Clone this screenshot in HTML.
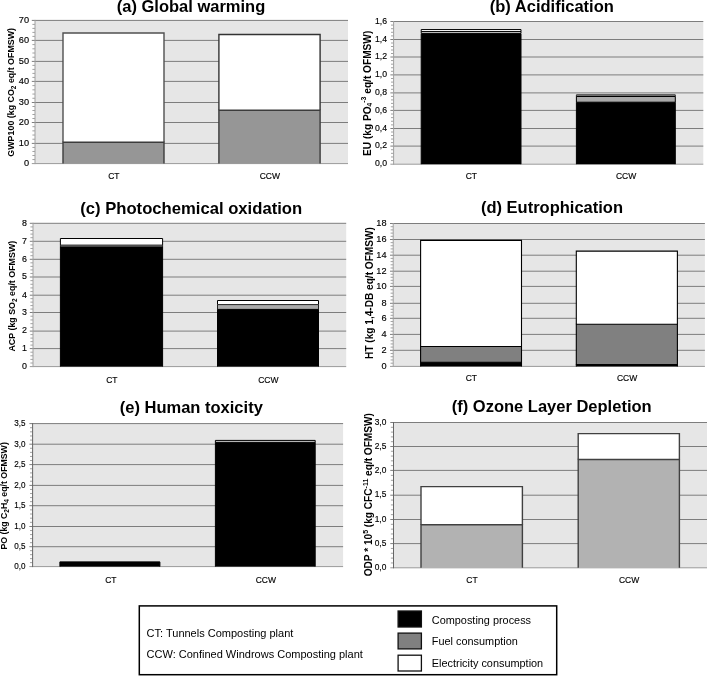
<!DOCTYPE html>
<html><head><meta charset="utf-8"><title>LCA impact categories</title>
<style>
html,body{margin:0;padding:0;background:#fff;}
body{width:707px;height:676px;overflow:hidden;}
svg{display:block;font-family:"Liberation Sans", Arial, sans-serif;}
</style></head><body>
<svg width="707" height="676" viewBox="0 0 707 676">
<rect width="707" height="676" fill="#fff"/>
<rect x="35.0" y="20.4" width="313.0" height="143.20" fill="#e6e6e6"/>
<line x1="32.4" y1="24.40" x2="35.0" y2="24.40" stroke="#8a8a8a" stroke-width="0.8"/>
<line x1="32.4" y1="28.40" x2="35.0" y2="28.40" stroke="#8a8a8a" stroke-width="0.8"/>
<line x1="32.4" y1="32.40" x2="35.0" y2="32.40" stroke="#8a8a8a" stroke-width="0.8"/>
<line x1="32.4" y1="36.40" x2="35.0" y2="36.40" stroke="#8a8a8a" stroke-width="0.8"/>
<line x1="32.4" y1="44.60" x2="35.0" y2="44.60" stroke="#8a8a8a" stroke-width="0.8"/>
<line x1="32.4" y1="48.80" x2="35.0" y2="48.80" stroke="#8a8a8a" stroke-width="0.8"/>
<line x1="32.4" y1="53.00" x2="35.0" y2="53.00" stroke="#8a8a8a" stroke-width="0.8"/>
<line x1="32.4" y1="57.20" x2="35.0" y2="57.20" stroke="#8a8a8a" stroke-width="0.8"/>
<line x1="32.4" y1="65.40" x2="35.0" y2="65.40" stroke="#8a8a8a" stroke-width="0.8"/>
<line x1="32.4" y1="69.40" x2="35.0" y2="69.40" stroke="#8a8a8a" stroke-width="0.8"/>
<line x1="32.4" y1="73.40" x2="35.0" y2="73.40" stroke="#8a8a8a" stroke-width="0.8"/>
<line x1="32.4" y1="77.40" x2="35.0" y2="77.40" stroke="#8a8a8a" stroke-width="0.8"/>
<line x1="32.4" y1="85.62" x2="35.0" y2="85.62" stroke="#8a8a8a" stroke-width="0.8"/>
<line x1="32.4" y1="89.84" x2="35.0" y2="89.84" stroke="#8a8a8a" stroke-width="0.8"/>
<line x1="32.4" y1="94.06" x2="35.0" y2="94.06" stroke="#8a8a8a" stroke-width="0.8"/>
<line x1="32.4" y1="98.28" x2="35.0" y2="98.28" stroke="#8a8a8a" stroke-width="0.8"/>
<line x1="32.4" y1="106.50" x2="35.0" y2="106.50" stroke="#8a8a8a" stroke-width="0.8"/>
<line x1="32.4" y1="110.50" x2="35.0" y2="110.50" stroke="#8a8a8a" stroke-width="0.8"/>
<line x1="32.4" y1="114.50" x2="35.0" y2="114.50" stroke="#8a8a8a" stroke-width="0.8"/>
<line x1="32.4" y1="118.50" x2="35.0" y2="118.50" stroke="#8a8a8a" stroke-width="0.8"/>
<line x1="32.4" y1="126.68" x2="35.0" y2="126.68" stroke="#8a8a8a" stroke-width="0.8"/>
<line x1="32.4" y1="130.86" x2="35.0" y2="130.86" stroke="#8a8a8a" stroke-width="0.8"/>
<line x1="32.4" y1="135.04" x2="35.0" y2="135.04" stroke="#8a8a8a" stroke-width="0.8"/>
<line x1="32.4" y1="139.22" x2="35.0" y2="139.22" stroke="#8a8a8a" stroke-width="0.8"/>
<line x1="32.4" y1="147.44" x2="35.0" y2="147.44" stroke="#8a8a8a" stroke-width="0.8"/>
<line x1="32.4" y1="151.48" x2="35.0" y2="151.48" stroke="#8a8a8a" stroke-width="0.8"/>
<line x1="32.4" y1="155.52" x2="35.0" y2="155.52" stroke="#8a8a8a" stroke-width="0.8"/>
<line x1="32.4" y1="159.56" x2="35.0" y2="159.56" stroke="#8a8a8a" stroke-width="0.8"/>
<line x1="31.8" y1="20.40" x2="348" y2="20.40" stroke="#7d7d7d" stroke-width="1"/>
<line x1="31.8" y1="40.40" x2="348" y2="40.40" stroke="#7d7d7d" stroke-width="1"/>
<line x1="31.8" y1="61.40" x2="348" y2="61.40" stroke="#7d7d7d" stroke-width="1"/>
<line x1="31.8" y1="81.40" x2="348" y2="81.40" stroke="#7d7d7d" stroke-width="1"/>
<line x1="31.8" y1="102.50" x2="348" y2="102.50" stroke="#7d7d7d" stroke-width="1"/>
<line x1="31.8" y1="122.50" x2="348" y2="122.50" stroke="#7d7d7d" stroke-width="1"/>
<line x1="31.8" y1="143.40" x2="348" y2="143.40" stroke="#7d7d7d" stroke-width="1"/>
<line x1="31.8" y1="163.60" x2="348" y2="163.60" stroke="#9a9a9a" stroke-width="1"/>
<line x1="35.0" y1="19.9" x2="35.0" y2="164.1" stroke="#a0a0a0" stroke-width="1"/>
<text transform="translate(29.0,166.01) scale(1,1)" font-size="9.2" text-anchor="end" fill="#000" stroke="#000" stroke-width="0.15">0</text>
<text transform="translate(29.0,145.81) scale(1,1)" font-size="9.2" text-anchor="end" fill="#000" stroke="#000" stroke-width="0.15">10</text>
<text transform="translate(29.0,124.91) scale(1,1)" font-size="9.2" text-anchor="end" fill="#000" stroke="#000" stroke-width="0.15">20</text>
<text transform="translate(29.0,104.91) scale(1,1)" font-size="9.2" text-anchor="end" fill="#000" stroke="#000" stroke-width="0.15">30</text>
<text transform="translate(29.0,83.81) scale(1,1)" font-size="9.2" text-anchor="end" fill="#000" stroke="#000" stroke-width="0.15">40</text>
<text transform="translate(29.0,63.81) scale(1,1)" font-size="9.2" text-anchor="end" fill="#000" stroke="#000" stroke-width="0.15">50</text>
<text transform="translate(29.0,42.81) scale(1,1)" font-size="9.2" text-anchor="end" fill="#000" stroke="#000" stroke-width="0.15">60</text>
<text transform="translate(29.0,22.81) scale(1,1)" font-size="9.2" text-anchor="end" fill="#000" stroke="#000" stroke-width="0.15">70</text>
<rect x="63.00" y="33.00" width="101.00" height="109.30" fill="#fff"/>
<rect x="63.00" y="142.30" width="101.00" height="21.30" fill="#969696"/>
<path d="M63.00,142.30V33.00H164.00V142.30" fill="none" stroke="#505050" stroke-width="1.4"/>
<path d="M63.00,163.60V142.30H164.00V163.60" fill="none" stroke="#3c3c3c" stroke-width="1.4"/>
<text x="113.80" y="178.5" font-size="8.5" text-anchor="middle" fill="#000" stroke="#000" stroke-width="0.15">CT</text>
<rect x="218.90" y="34.50" width="101.20" height="75.80" fill="#fff"/>
<rect x="218.90" y="110.30" width="101.20" height="53.30" fill="#969696"/>
<path d="M218.90,110.30V34.50H320.10V110.30" fill="none" stroke="#333" stroke-width="1.4"/>
<path d="M218.90,163.60V110.30H320.10V163.60" fill="none" stroke="#3c3c3c" stroke-width="1.4"/>
<text x="269.80" y="178.5" font-size="8.5" text-anchor="middle" fill="#000" stroke="#000" stroke-width="0.15">CCW</text>
<text x="191" y="11.7" font-size="16.5" font-weight="bold" text-anchor="middle" fill="#000">(a) Global warming</text>
<text transform="translate(14.1,92.3) rotate(-90) scale(1,1)" font-size="8.87" font-weight="bold" text-anchor="middle" fill="#000"><tspan>GWP100 (kg CO</tspan><tspan dy="1.8" font-size="6.5">2</tspan><tspan dy="-1.8"> eq/t OFMSW)</tspan></text>
<rect x="393.6" y="21.5" width="309.69999999999993" height="142.70" fill="#e6e6e6"/>
<line x1="391.0" y1="25.10" x2="393.6" y2="25.10" stroke="#8a8a8a" stroke-width="0.8"/>
<line x1="391.0" y1="28.70" x2="393.6" y2="28.70" stroke="#8a8a8a" stroke-width="0.8"/>
<line x1="391.0" y1="32.30" x2="393.6" y2="32.30" stroke="#8a8a8a" stroke-width="0.8"/>
<line x1="391.0" y1="35.90" x2="393.6" y2="35.90" stroke="#8a8a8a" stroke-width="0.8"/>
<line x1="391.0" y1="43.00" x2="393.6" y2="43.00" stroke="#8a8a8a" stroke-width="0.8"/>
<line x1="391.0" y1="46.50" x2="393.6" y2="46.50" stroke="#8a8a8a" stroke-width="0.8"/>
<line x1="391.0" y1="50.00" x2="393.6" y2="50.00" stroke="#8a8a8a" stroke-width="0.8"/>
<line x1="391.0" y1="53.50" x2="393.6" y2="53.50" stroke="#8a8a8a" stroke-width="0.8"/>
<line x1="391.0" y1="60.58" x2="393.6" y2="60.58" stroke="#8a8a8a" stroke-width="0.8"/>
<line x1="391.0" y1="64.16" x2="393.6" y2="64.16" stroke="#8a8a8a" stroke-width="0.8"/>
<line x1="391.0" y1="67.74" x2="393.6" y2="67.74" stroke="#8a8a8a" stroke-width="0.8"/>
<line x1="391.0" y1="71.32" x2="393.6" y2="71.32" stroke="#8a8a8a" stroke-width="0.8"/>
<line x1="391.0" y1="78.50" x2="393.6" y2="78.50" stroke="#8a8a8a" stroke-width="0.8"/>
<line x1="391.0" y1="82.10" x2="393.6" y2="82.10" stroke="#8a8a8a" stroke-width="0.8"/>
<line x1="391.0" y1="85.70" x2="393.6" y2="85.70" stroke="#8a8a8a" stroke-width="0.8"/>
<line x1="391.0" y1="89.30" x2="393.6" y2="89.30" stroke="#8a8a8a" stroke-width="0.8"/>
<line x1="391.0" y1="96.40" x2="393.6" y2="96.40" stroke="#8a8a8a" stroke-width="0.8"/>
<line x1="391.0" y1="99.90" x2="393.6" y2="99.90" stroke="#8a8a8a" stroke-width="0.8"/>
<line x1="391.0" y1="103.40" x2="393.6" y2="103.40" stroke="#8a8a8a" stroke-width="0.8"/>
<line x1="391.0" y1="106.90" x2="393.6" y2="106.90" stroke="#8a8a8a" stroke-width="0.8"/>
<line x1="391.0" y1="114.02" x2="393.6" y2="114.02" stroke="#8a8a8a" stroke-width="0.8"/>
<line x1="391.0" y1="117.64" x2="393.6" y2="117.64" stroke="#8a8a8a" stroke-width="0.8"/>
<line x1="391.0" y1="121.26" x2="393.6" y2="121.26" stroke="#8a8a8a" stroke-width="0.8"/>
<line x1="391.0" y1="124.88" x2="393.6" y2="124.88" stroke="#8a8a8a" stroke-width="0.8"/>
<line x1="391.0" y1="132.02" x2="393.6" y2="132.02" stroke="#8a8a8a" stroke-width="0.8"/>
<line x1="391.0" y1="135.54" x2="393.6" y2="135.54" stroke="#8a8a8a" stroke-width="0.8"/>
<line x1="391.0" y1="139.06" x2="393.6" y2="139.06" stroke="#8a8a8a" stroke-width="0.8"/>
<line x1="391.0" y1="142.58" x2="393.6" y2="142.58" stroke="#8a8a8a" stroke-width="0.8"/>
<line x1="391.0" y1="149.72" x2="393.6" y2="149.72" stroke="#8a8a8a" stroke-width="0.8"/>
<line x1="391.0" y1="153.34" x2="393.6" y2="153.34" stroke="#8a8a8a" stroke-width="0.8"/>
<line x1="391.0" y1="156.96" x2="393.6" y2="156.96" stroke="#8a8a8a" stroke-width="0.8"/>
<line x1="391.0" y1="160.58" x2="393.6" y2="160.58" stroke="#8a8a8a" stroke-width="0.8"/>
<line x1="390.40000000000003" y1="21.50" x2="703.3" y2="21.50" stroke="#7d7d7d" stroke-width="1"/>
<line x1="390.40000000000003" y1="39.50" x2="703.3" y2="39.50" stroke="#7d7d7d" stroke-width="1"/>
<line x1="390.40000000000003" y1="57.00" x2="703.3" y2="57.00" stroke="#7d7d7d" stroke-width="1"/>
<line x1="390.40000000000003" y1="74.90" x2="703.3" y2="74.90" stroke="#7d7d7d" stroke-width="1"/>
<line x1="390.40000000000003" y1="92.90" x2="703.3" y2="92.90" stroke="#7d7d7d" stroke-width="1"/>
<line x1="390.40000000000003" y1="110.40" x2="703.3" y2="110.40" stroke="#7d7d7d" stroke-width="1"/>
<line x1="390.40000000000003" y1="128.50" x2="703.3" y2="128.50" stroke="#7d7d7d" stroke-width="1"/>
<line x1="390.40000000000003" y1="146.10" x2="703.3" y2="146.10" stroke="#7d7d7d" stroke-width="1"/>
<line x1="390.40000000000003" y1="164.20" x2="703.3" y2="164.20" stroke="#9a9a9a" stroke-width="1"/>
<line x1="393.6" y1="21.0" x2="393.6" y2="164.7" stroke="#a0a0a0" stroke-width="1"/>
<text transform="translate(387.0,166.43) scale(1,1)" font-size="8.7" text-anchor="end" fill="#000" stroke="#000" stroke-width="0.15">0,0</text>
<text transform="translate(387.0,148.33) scale(1,1)" font-size="8.7" text-anchor="end" fill="#000" stroke="#000" stroke-width="0.15">0,2</text>
<text transform="translate(387.0,130.73) scale(1,1)" font-size="8.7" text-anchor="end" fill="#000" stroke="#000" stroke-width="0.15">0,4</text>
<text transform="translate(387.0,112.63) scale(1,1)" font-size="8.7" text-anchor="end" fill="#000" stroke="#000" stroke-width="0.15">0,6</text>
<text transform="translate(387.0,95.13) scale(1,1)" font-size="8.7" text-anchor="end" fill="#000" stroke="#000" stroke-width="0.15">0,8</text>
<text transform="translate(387.0,77.13) scale(1,1)" font-size="8.7" text-anchor="end" fill="#000" stroke="#000" stroke-width="0.15">1,0</text>
<text transform="translate(387.0,59.23) scale(1,1)" font-size="8.7" text-anchor="end" fill="#000" stroke="#000" stroke-width="0.15">1,2</text>
<text transform="translate(387.0,41.73) scale(1,1)" font-size="8.7" text-anchor="end" fill="#000" stroke="#000" stroke-width="0.15">1,4</text>
<text transform="translate(387.0,23.73) scale(1,1)" font-size="8.7" text-anchor="end" fill="#000" stroke="#000" stroke-width="0.15">1,6</text>
<rect x="421.20" y="33.60" width="99.80" height="130.60" fill="#000"/>
<rect x="421.20" y="31.55" width="99.80" height="1.55" fill="#c4c4c4"/>
<rect x="421.20" y="29.55" width="99.80" height="2.00" fill="#fff"/>
<path d="M421.20,164.20V33.60H521.00V164.20" fill="none" stroke="#000" stroke-width="1"/>
<path d="M421.20,33.10V31.55H521.00V33.10" fill="none" stroke="#000" stroke-width="1"/>
<path d="M421.20,31.55V29.55H521.00V31.55" fill="none" stroke="#000" stroke-width="1"/>
<text x="471.40" y="179.1" font-size="8.5" text-anchor="middle" fill="#000" stroke="#000" stroke-width="0.15">CT</text>
<rect x="576.40" y="94.80" width="98.90" height="1.70" fill="#888"/>
<rect x="576.40" y="96.50" width="98.90" height="5.50" fill="#aaa"/>
<rect x="576.40" y="102.20" width="98.90" height="62.00" fill="#000"/>
<path d="M576.40,96.50V94.80H675.30V96.50" fill="none" stroke="#333" stroke-width="1"/>
<path d="M576.40,102.00V96.50H675.30V102.00" fill="none" stroke="#000" stroke-width="1"/>
<path d="M576.40,164.20V102.20H675.30V164.20" fill="none" stroke="#000" stroke-width="1"/>
<text x="626.15" y="179.1" font-size="8.5" text-anchor="middle" fill="#000" stroke="#000" stroke-width="0.15">CCW</text>
<text x="551.8" y="11.6" font-size="16.5" font-weight="bold" text-anchor="middle" fill="#000">(b) Acidification</text>
<text transform="translate(370.6,93.3) rotate(-90) scale(1,1)" font-size="10.15" font-weight="bold" text-anchor="middle" fill="#000"><tspan>EU (kg PO</tspan><tspan dy="1.8" font-size="6.5">4</tspan><tspan dy="-6.0" font-size="7">-3</tspan><tspan dy="4.2"> eq/t OFMSW)</tspan></text>
<rect x="33.0" y="223.3" width="313.2" height="143.30" fill="#e6e6e6"/>
<line x1="30.4" y1="226.90" x2="33.0" y2="226.90" stroke="#8a8a8a" stroke-width="0.8"/>
<line x1="30.4" y1="230.50" x2="33.0" y2="230.50" stroke="#8a8a8a" stroke-width="0.8"/>
<line x1="30.4" y1="234.10" x2="33.0" y2="234.10" stroke="#8a8a8a" stroke-width="0.8"/>
<line x1="30.4" y1="237.70" x2="33.0" y2="237.70" stroke="#8a8a8a" stroke-width="0.8"/>
<line x1="30.4" y1="244.90" x2="33.0" y2="244.90" stroke="#8a8a8a" stroke-width="0.8"/>
<line x1="30.4" y1="248.50" x2="33.0" y2="248.50" stroke="#8a8a8a" stroke-width="0.8"/>
<line x1="30.4" y1="252.10" x2="33.0" y2="252.10" stroke="#8a8a8a" stroke-width="0.8"/>
<line x1="30.4" y1="255.70" x2="33.0" y2="255.70" stroke="#8a8a8a" stroke-width="0.8"/>
<line x1="30.4" y1="262.84" x2="33.0" y2="262.84" stroke="#8a8a8a" stroke-width="0.8"/>
<line x1="30.4" y1="266.38" x2="33.0" y2="266.38" stroke="#8a8a8a" stroke-width="0.8"/>
<line x1="30.4" y1="269.92" x2="33.0" y2="269.92" stroke="#8a8a8a" stroke-width="0.8"/>
<line x1="30.4" y1="273.46" x2="33.0" y2="273.46" stroke="#8a8a8a" stroke-width="0.8"/>
<line x1="30.4" y1="280.64" x2="33.0" y2="280.64" stroke="#8a8a8a" stroke-width="0.8"/>
<line x1="30.4" y1="284.28" x2="33.0" y2="284.28" stroke="#8a8a8a" stroke-width="0.8"/>
<line x1="30.4" y1="287.92" x2="33.0" y2="287.92" stroke="#8a8a8a" stroke-width="0.8"/>
<line x1="30.4" y1="291.56" x2="33.0" y2="291.56" stroke="#8a8a8a" stroke-width="0.8"/>
<line x1="30.4" y1="298.66" x2="33.0" y2="298.66" stroke="#8a8a8a" stroke-width="0.8"/>
<line x1="30.4" y1="302.12" x2="33.0" y2="302.12" stroke="#8a8a8a" stroke-width="0.8"/>
<line x1="30.4" y1="305.58" x2="33.0" y2="305.58" stroke="#8a8a8a" stroke-width="0.8"/>
<line x1="30.4" y1="309.04" x2="33.0" y2="309.04" stroke="#8a8a8a" stroke-width="0.8"/>
<line x1="30.4" y1="316.22" x2="33.0" y2="316.22" stroke="#8a8a8a" stroke-width="0.8"/>
<line x1="30.4" y1="319.94" x2="33.0" y2="319.94" stroke="#8a8a8a" stroke-width="0.8"/>
<line x1="30.4" y1="323.66" x2="33.0" y2="323.66" stroke="#8a8a8a" stroke-width="0.8"/>
<line x1="30.4" y1="327.38" x2="33.0" y2="327.38" stroke="#8a8a8a" stroke-width="0.8"/>
<line x1="30.4" y1="334.60" x2="33.0" y2="334.60" stroke="#8a8a8a" stroke-width="0.8"/>
<line x1="30.4" y1="338.10" x2="33.0" y2="338.10" stroke="#8a8a8a" stroke-width="0.8"/>
<line x1="30.4" y1="341.60" x2="33.0" y2="341.60" stroke="#8a8a8a" stroke-width="0.8"/>
<line x1="30.4" y1="345.10" x2="33.0" y2="345.10" stroke="#8a8a8a" stroke-width="0.8"/>
<line x1="30.4" y1="352.20" x2="33.0" y2="352.20" stroke="#8a8a8a" stroke-width="0.8"/>
<line x1="30.4" y1="355.80" x2="33.0" y2="355.80" stroke="#8a8a8a" stroke-width="0.8"/>
<line x1="30.4" y1="359.40" x2="33.0" y2="359.40" stroke="#8a8a8a" stroke-width="0.8"/>
<line x1="30.4" y1="363.00" x2="33.0" y2="363.00" stroke="#8a8a8a" stroke-width="0.8"/>
<line x1="29.8" y1="223.30" x2="346.2" y2="223.30" stroke="#7d7d7d" stroke-width="1"/>
<line x1="29.8" y1="241.30" x2="346.2" y2="241.30" stroke="#7d7d7d" stroke-width="1"/>
<line x1="29.8" y1="259.30" x2="346.2" y2="259.30" stroke="#7d7d7d" stroke-width="1"/>
<line x1="29.8" y1="277.00" x2="346.2" y2="277.00" stroke="#7d7d7d" stroke-width="1"/>
<line x1="29.8" y1="295.20" x2="346.2" y2="295.20" stroke="#7d7d7d" stroke-width="1"/>
<line x1="29.8" y1="312.50" x2="346.2" y2="312.50" stroke="#7d7d7d" stroke-width="1"/>
<line x1="29.8" y1="331.10" x2="346.2" y2="331.10" stroke="#7d7d7d" stroke-width="1"/>
<line x1="29.8" y1="348.60" x2="346.2" y2="348.60" stroke="#7d7d7d" stroke-width="1"/>
<line x1="29.8" y1="366.60" x2="346.2" y2="366.60" stroke="#9a9a9a" stroke-width="1"/>
<line x1="33.0" y1="222.8" x2="33.0" y2="367.1" stroke="#a0a0a0" stroke-width="1"/>
<text transform="translate(27.0,368.90) scale(1,1)" font-size="8.9" text-anchor="end" fill="#000" stroke="#000" stroke-width="0.15">0</text>
<text transform="translate(27.0,350.90) scale(1,1)" font-size="8.9" text-anchor="end" fill="#000" stroke="#000" stroke-width="0.15">1</text>
<text transform="translate(27.0,333.40) scale(1,1)" font-size="8.9" text-anchor="end" fill="#000" stroke="#000" stroke-width="0.15">2</text>
<text transform="translate(27.0,314.80) scale(1,1)" font-size="8.9" text-anchor="end" fill="#000" stroke="#000" stroke-width="0.15">3</text>
<text transform="translate(27.0,297.50) scale(1,1)" font-size="8.9" text-anchor="end" fill="#000" stroke="#000" stroke-width="0.15">4</text>
<text transform="translate(27.0,279.30) scale(1,1)" font-size="8.9" text-anchor="end" fill="#000" stroke="#000" stroke-width="0.15">5</text>
<text transform="translate(27.0,261.60) scale(1,1)" font-size="8.9" text-anchor="end" fill="#000" stroke="#000" stroke-width="0.15">6</text>
<text transform="translate(27.0,243.60) scale(1,1)" font-size="8.9" text-anchor="end" fill="#000" stroke="#000" stroke-width="0.15">7</text>
<text transform="translate(27.0,225.60) scale(1,1)" font-size="8.9" text-anchor="end" fill="#000" stroke="#000" stroke-width="0.15">8</text>
<rect x="60.40" y="238.50" width="102.20" height="6.60" fill="#fff"/>
<rect x="60.40" y="245.10" width="102.20" height="1.90" fill="#8c8c8c"/>
<rect x="60.40" y="247.00" width="102.20" height="119.60" fill="#000"/>
<path d="M60.40,245.10V238.50H162.60V245.10" fill="none" stroke="#000" stroke-width="1"/>
<path d="M60.40,247.00V245.10H162.60V247.00" fill="none" stroke="#222" stroke-width="1"/>
<path d="M60.40,366.60V247.00H162.60V366.60" fill="none" stroke="#000" stroke-width="1"/>
<text x="111.80" y="382.5" font-size="8.5" text-anchor="middle" fill="#000" stroke="#000" stroke-width="0.15">CT</text>
<rect x="217.50" y="300.50" width="101.00" height="4.10" fill="#fff"/>
<rect x="217.50" y="304.60" width="101.00" height="4.80" fill="#aaa"/>
<rect x="217.50" y="309.40" width="101.00" height="57.20" fill="#000"/>
<path d="M217.50,304.60V300.50H318.50V304.60" fill="none" stroke="#000" stroke-width="1"/>
<path d="M217.50,309.40V304.60H318.50V309.40" fill="none" stroke="#222" stroke-width="1"/>
<path d="M217.50,366.60V309.40H318.50V366.60" fill="none" stroke="#000" stroke-width="1"/>
<text x="268.30" y="382.5" font-size="8.5" text-anchor="middle" fill="#000" stroke="#000" stroke-width="0.15">CCW</text>
<text x="191.2" y="213.5" font-size="16.65" font-weight="bold" text-anchor="middle" fill="#000">(c) Photochemical oxidation</text>
<text transform="translate(14.8,296.2) rotate(-90) scale(1,1)" font-size="8.87" font-weight="bold" text-anchor="middle" fill="#000"><tspan>ACP (kg SO</tspan><tspan dy="1.8" font-size="6.5">2</tspan><tspan dy="-1.8"> eq/t OFMSW)</tspan></text>
<rect x="393.2" y="223.5" width="311.7" height="142.90" fill="#e6e6e6"/>
<line x1="390.59999999999997" y1="226.70" x2="393.2" y2="226.70" stroke="#8a8a8a" stroke-width="0.8"/>
<line x1="390.59999999999997" y1="229.90" x2="393.2" y2="229.90" stroke="#8a8a8a" stroke-width="0.8"/>
<line x1="390.59999999999997" y1="233.10" x2="393.2" y2="233.10" stroke="#8a8a8a" stroke-width="0.8"/>
<line x1="390.59999999999997" y1="236.30" x2="393.2" y2="236.30" stroke="#8a8a8a" stroke-width="0.8"/>
<line x1="390.59999999999997" y1="242.64" x2="393.2" y2="242.64" stroke="#8a8a8a" stroke-width="0.8"/>
<line x1="390.59999999999997" y1="245.78" x2="393.2" y2="245.78" stroke="#8a8a8a" stroke-width="0.8"/>
<line x1="390.59999999999997" y1="248.92" x2="393.2" y2="248.92" stroke="#8a8a8a" stroke-width="0.8"/>
<line x1="390.59999999999997" y1="252.06" x2="393.2" y2="252.06" stroke="#8a8a8a" stroke-width="0.8"/>
<line x1="390.59999999999997" y1="258.40" x2="393.2" y2="258.40" stroke="#8a8a8a" stroke-width="0.8"/>
<line x1="390.59999999999997" y1="261.60" x2="393.2" y2="261.60" stroke="#8a8a8a" stroke-width="0.8"/>
<line x1="390.59999999999997" y1="264.80" x2="393.2" y2="264.80" stroke="#8a8a8a" stroke-width="0.8"/>
<line x1="390.59999999999997" y1="268.00" x2="393.2" y2="268.00" stroke="#8a8a8a" stroke-width="0.8"/>
<line x1="390.59999999999997" y1="274.24" x2="393.2" y2="274.24" stroke="#8a8a8a" stroke-width="0.8"/>
<line x1="390.59999999999997" y1="277.28" x2="393.2" y2="277.28" stroke="#8a8a8a" stroke-width="0.8"/>
<line x1="390.59999999999997" y1="280.32" x2="393.2" y2="280.32" stroke="#8a8a8a" stroke-width="0.8"/>
<line x1="390.59999999999997" y1="283.36" x2="393.2" y2="283.36" stroke="#8a8a8a" stroke-width="0.8"/>
<line x1="390.59999999999997" y1="289.78" x2="393.2" y2="289.78" stroke="#8a8a8a" stroke-width="0.8"/>
<line x1="390.59999999999997" y1="293.16" x2="393.2" y2="293.16" stroke="#8a8a8a" stroke-width="0.8"/>
<line x1="390.59999999999997" y1="296.54" x2="393.2" y2="296.54" stroke="#8a8a8a" stroke-width="0.8"/>
<line x1="390.59999999999997" y1="299.92" x2="393.2" y2="299.92" stroke="#8a8a8a" stroke-width="0.8"/>
<line x1="390.59999999999997" y1="306.30" x2="393.2" y2="306.30" stroke="#8a8a8a" stroke-width="0.8"/>
<line x1="390.59999999999997" y1="309.30" x2="393.2" y2="309.30" stroke="#8a8a8a" stroke-width="0.8"/>
<line x1="390.59999999999997" y1="312.30" x2="393.2" y2="312.30" stroke="#8a8a8a" stroke-width="0.8"/>
<line x1="390.59999999999997" y1="315.30" x2="393.2" y2="315.30" stroke="#8a8a8a" stroke-width="0.8"/>
<line x1="390.59999999999997" y1="321.52" x2="393.2" y2="321.52" stroke="#8a8a8a" stroke-width="0.8"/>
<line x1="390.59999999999997" y1="324.74" x2="393.2" y2="324.74" stroke="#8a8a8a" stroke-width="0.8"/>
<line x1="390.59999999999997" y1="327.96" x2="393.2" y2="327.96" stroke="#8a8a8a" stroke-width="0.8"/>
<line x1="390.59999999999997" y1="331.18" x2="393.2" y2="331.18" stroke="#8a8a8a" stroke-width="0.8"/>
<line x1="390.59999999999997" y1="337.58" x2="393.2" y2="337.58" stroke="#8a8a8a" stroke-width="0.8"/>
<line x1="390.59999999999997" y1="340.76" x2="393.2" y2="340.76" stroke="#8a8a8a" stroke-width="0.8"/>
<line x1="390.59999999999997" y1="343.94" x2="393.2" y2="343.94" stroke="#8a8a8a" stroke-width="0.8"/>
<line x1="390.59999999999997" y1="347.12" x2="393.2" y2="347.12" stroke="#8a8a8a" stroke-width="0.8"/>
<line x1="390.59999999999997" y1="353.52" x2="393.2" y2="353.52" stroke="#8a8a8a" stroke-width="0.8"/>
<line x1="390.59999999999997" y1="356.74" x2="393.2" y2="356.74" stroke="#8a8a8a" stroke-width="0.8"/>
<line x1="390.59999999999997" y1="359.96" x2="393.2" y2="359.96" stroke="#8a8a8a" stroke-width="0.8"/>
<line x1="390.59999999999997" y1="363.18" x2="393.2" y2="363.18" stroke="#8a8a8a" stroke-width="0.8"/>
<line x1="390.0" y1="223.50" x2="704.9" y2="223.50" stroke="#7d7d7d" stroke-width="1"/>
<line x1="390.0" y1="239.50" x2="704.9" y2="239.50" stroke="#7d7d7d" stroke-width="1"/>
<line x1="390.0" y1="255.20" x2="704.9" y2="255.20" stroke="#7d7d7d" stroke-width="1"/>
<line x1="390.0" y1="271.20" x2="704.9" y2="271.20" stroke="#7d7d7d" stroke-width="1"/>
<line x1="390.0" y1="286.40" x2="704.9" y2="286.40" stroke="#7d7d7d" stroke-width="1"/>
<line x1="390.0" y1="303.30" x2="704.9" y2="303.30" stroke="#7d7d7d" stroke-width="1"/>
<line x1="390.0" y1="318.30" x2="704.9" y2="318.30" stroke="#7d7d7d" stroke-width="1"/>
<line x1="390.0" y1="334.40" x2="704.9" y2="334.40" stroke="#7d7d7d" stroke-width="1"/>
<line x1="390.0" y1="350.30" x2="704.9" y2="350.30" stroke="#7d7d7d" stroke-width="1"/>
<line x1="390.0" y1="366.40" x2="704.9" y2="366.40" stroke="#9a9a9a" stroke-width="1"/>
<line x1="393.2" y1="223.0" x2="393.2" y2="366.9" stroke="#a0a0a0" stroke-width="1"/>
<text transform="translate(386.6,368.81) scale(1,1)" font-size="9.2" text-anchor="end" fill="#000" stroke="#000" stroke-width="0.15">0</text>
<text transform="translate(386.6,352.71) scale(1,1)" font-size="9.2" text-anchor="end" fill="#000" stroke="#000" stroke-width="0.15">2</text>
<text transform="translate(386.6,336.81) scale(1,1)" font-size="9.2" text-anchor="end" fill="#000" stroke="#000" stroke-width="0.15">4</text>
<text transform="translate(386.6,320.71) scale(1,1)" font-size="9.2" text-anchor="end" fill="#000" stroke="#000" stroke-width="0.15">6</text>
<text transform="translate(386.6,305.71) scale(1,1)" font-size="9.2" text-anchor="end" fill="#000" stroke="#000" stroke-width="0.15">8</text>
<text transform="translate(386.6,288.81) scale(1,1)" font-size="9.2" text-anchor="end" fill="#000" stroke="#000" stroke-width="0.15">10</text>
<text transform="translate(386.6,273.61) scale(1,1)" font-size="9.2" text-anchor="end" fill="#000" stroke="#000" stroke-width="0.15">12</text>
<text transform="translate(386.6,257.61) scale(1,1)" font-size="9.2" text-anchor="end" fill="#000" stroke="#000" stroke-width="0.15">14</text>
<text transform="translate(386.6,241.91) scale(1,1)" font-size="9.2" text-anchor="end" fill="#000" stroke="#000" stroke-width="0.15">16</text>
<text transform="translate(386.6,225.91) scale(1,1)" font-size="9.2" text-anchor="end" fill="#000" stroke="#000" stroke-width="0.15">18</text>
<rect x="420.60" y="240.40" width="100.90" height="106.10" fill="#fff"/>
<rect x="420.60" y="346.50" width="100.90" height="15.70" fill="#808080"/>
<rect x="420.60" y="362.20" width="100.90" height="4.20" fill="#000"/>
<path d="M420.60,346.50V240.40H521.50V346.50" fill="none" stroke="#000" stroke-width="1.1"/>
<path d="M420.60,362.20V346.50H521.50V362.20" fill="none" stroke="#000" stroke-width="1.1"/>
<path d="M420.60,366.40V362.20H521.50V366.40" fill="none" stroke="#000" stroke-width="1.1"/>
<text x="471.35" y="381.3" font-size="8.5" text-anchor="middle" fill="#000" stroke="#000" stroke-width="0.15">CT</text>
<rect x="576.30" y="251.10" width="101.10" height="73.10" fill="#fff"/>
<rect x="576.30" y="324.20" width="101.10" height="40.30" fill="#808080"/>
<rect x="576.30" y="364.50" width="101.10" height="1.90" fill="#000"/>
<path d="M576.30,324.20V251.10H677.40V324.20" fill="none" stroke="#000" stroke-width="1.1"/>
<path d="M576.30,364.50V324.20H677.40V364.50" fill="none" stroke="#000" stroke-width="1.1"/>
<path d="M576.30,366.40V364.50H677.40V366.40" fill="none" stroke="#000" stroke-width="1.1"/>
<text x="627.15" y="381.3" font-size="8.5" text-anchor="middle" fill="#000" stroke="#000" stroke-width="0.15">CCW</text>
<text x="552.0" y="213.4" font-size="16.5" font-weight="bold" text-anchor="middle" fill="#000">(d) Eutrophication</text>
<text transform="translate(373.2,293) rotate(-90) scale(1,1)" font-size="10.1" font-weight="bold" text-anchor="middle" fill="#000">HT (kg 1,4-DB eq/t OFMSW)</text>
<rect x="32.6" y="423.6" width="310.5" height="143.00" fill="#e6e6e6"/>
<line x1="30.0" y1="427.72" x2="32.6" y2="427.72" stroke="#8a8a8a" stroke-width="0.8"/>
<line x1="30.0" y1="431.84" x2="32.6" y2="431.84" stroke="#8a8a8a" stroke-width="0.8"/>
<line x1="30.0" y1="435.96" x2="32.6" y2="435.96" stroke="#8a8a8a" stroke-width="0.8"/>
<line x1="30.0" y1="440.08" x2="32.6" y2="440.08" stroke="#8a8a8a" stroke-width="0.8"/>
<line x1="30.0" y1="448.28" x2="32.6" y2="448.28" stroke="#8a8a8a" stroke-width="0.8"/>
<line x1="30.0" y1="452.36" x2="32.6" y2="452.36" stroke="#8a8a8a" stroke-width="0.8"/>
<line x1="30.0" y1="456.44" x2="32.6" y2="456.44" stroke="#8a8a8a" stroke-width="0.8"/>
<line x1="30.0" y1="460.52" x2="32.6" y2="460.52" stroke="#8a8a8a" stroke-width="0.8"/>
<line x1="30.0" y1="468.76" x2="32.6" y2="468.76" stroke="#8a8a8a" stroke-width="0.8"/>
<line x1="30.0" y1="472.92" x2="32.6" y2="472.92" stroke="#8a8a8a" stroke-width="0.8"/>
<line x1="30.0" y1="477.08" x2="32.6" y2="477.08" stroke="#8a8a8a" stroke-width="0.8"/>
<line x1="30.0" y1="481.24" x2="32.6" y2="481.24" stroke="#8a8a8a" stroke-width="0.8"/>
<line x1="30.0" y1="489.46" x2="32.6" y2="489.46" stroke="#8a8a8a" stroke-width="0.8"/>
<line x1="30.0" y1="493.52" x2="32.6" y2="493.52" stroke="#8a8a8a" stroke-width="0.8"/>
<line x1="30.0" y1="497.58" x2="32.6" y2="497.58" stroke="#8a8a8a" stroke-width="0.8"/>
<line x1="30.0" y1="501.64" x2="32.6" y2="501.64" stroke="#8a8a8a" stroke-width="0.8"/>
<line x1="30.0" y1="509.86" x2="32.6" y2="509.86" stroke="#8a8a8a" stroke-width="0.8"/>
<line x1="30.0" y1="514.02" x2="32.6" y2="514.02" stroke="#8a8a8a" stroke-width="0.8"/>
<line x1="30.0" y1="518.18" x2="32.6" y2="518.18" stroke="#8a8a8a" stroke-width="0.8"/>
<line x1="30.0" y1="522.34" x2="32.6" y2="522.34" stroke="#8a8a8a" stroke-width="0.8"/>
<line x1="30.0" y1="530.54" x2="32.6" y2="530.54" stroke="#8a8a8a" stroke-width="0.8"/>
<line x1="30.0" y1="534.58" x2="32.6" y2="534.58" stroke="#8a8a8a" stroke-width="0.8"/>
<line x1="30.0" y1="538.62" x2="32.6" y2="538.62" stroke="#8a8a8a" stroke-width="0.8"/>
<line x1="30.0" y1="542.66" x2="32.6" y2="542.66" stroke="#8a8a8a" stroke-width="0.8"/>
<line x1="30.0" y1="550.68" x2="32.6" y2="550.68" stroke="#8a8a8a" stroke-width="0.8"/>
<line x1="30.0" y1="554.66" x2="32.6" y2="554.66" stroke="#8a8a8a" stroke-width="0.8"/>
<line x1="30.0" y1="558.64" x2="32.6" y2="558.64" stroke="#8a8a8a" stroke-width="0.8"/>
<line x1="30.0" y1="562.62" x2="32.6" y2="562.62" stroke="#8a8a8a" stroke-width="0.8"/>
<line x1="29.400000000000002" y1="423.60" x2="343.1" y2="423.60" stroke="#7d7d7d" stroke-width="1"/>
<line x1="29.400000000000002" y1="444.20" x2="343.1" y2="444.20" stroke="#7d7d7d" stroke-width="1"/>
<line x1="29.400000000000002" y1="464.60" x2="343.1" y2="464.60" stroke="#7d7d7d" stroke-width="1"/>
<line x1="29.400000000000002" y1="485.40" x2="343.1" y2="485.40" stroke="#7d7d7d" stroke-width="1"/>
<line x1="29.400000000000002" y1="505.70" x2="343.1" y2="505.70" stroke="#7d7d7d" stroke-width="1"/>
<line x1="29.400000000000002" y1="526.50" x2="343.1" y2="526.50" stroke="#7d7d7d" stroke-width="1"/>
<line x1="29.400000000000002" y1="546.70" x2="343.1" y2="546.70" stroke="#7d7d7d" stroke-width="1"/>
<line x1="29.400000000000002" y1="566.60" x2="343.1" y2="566.60" stroke="#9a9a9a" stroke-width="1"/>
<line x1="32.6" y1="423.1" x2="32.6" y2="567.1" stroke="#666" stroke-width="1"/>
<text transform="translate(25.6,568.94) scale(0.9,1)" font-size="9.0" text-anchor="end" fill="#000" stroke="#000" stroke-width="0.15">0,0</text>
<text transform="translate(25.6,549.04) scale(0.9,1)" font-size="9.0" text-anchor="end" fill="#000" stroke="#000" stroke-width="0.15">0,5</text>
<text transform="translate(25.6,528.84) scale(0.9,1)" font-size="9.0" text-anchor="end" fill="#000" stroke="#000" stroke-width="0.15">1,0</text>
<text transform="translate(25.6,508.04) scale(0.9,1)" font-size="9.0" text-anchor="end" fill="#000" stroke="#000" stroke-width="0.15">1,5</text>
<text transform="translate(25.6,487.74) scale(0.9,1)" font-size="9.0" text-anchor="end" fill="#000" stroke="#000" stroke-width="0.15">2,0</text>
<text transform="translate(25.6,466.94) scale(0.9,1)" font-size="9.0" text-anchor="end" fill="#000" stroke="#000" stroke-width="0.15">2,5</text>
<text transform="translate(25.6,446.54) scale(0.9,1)" font-size="9.0" text-anchor="end" fill="#000" stroke="#000" stroke-width="0.15">3,0</text>
<text transform="translate(25.6,425.94) scale(0.9,1)" font-size="9.0" text-anchor="end" fill="#000" stroke="#000" stroke-width="0.15">3,5</text>
<rect x="59.90" y="561.90" width="100.00" height="4.70" fill="#000"/>
<path d="M59.90,566.60V561.90H159.90V566.60" fill="none" stroke="#000" stroke-width="1"/>
<text x="110.90" y="582.5" font-size="8.5" text-anchor="middle" fill="#000" stroke="#000" stroke-width="0.15">CT</text>
<rect x="215.40" y="440.40" width="99.80" height="2.20" fill="#b4b4b4"/>
<rect x="215.40" y="442.60" width="99.80" height="124.00" fill="#000"/>
<path d="M215.40,442.60V440.40H315.20V442.60" fill="none" stroke="#000" stroke-width="1"/>
<path d="M215.40,566.60V442.60H315.20V566.60" fill="none" stroke="#000" stroke-width="1"/>
<text x="265.90" y="582.5" font-size="8.5" text-anchor="middle" fill="#000" stroke="#000" stroke-width="0.15">CCW</text>
<text x="191.3" y="412.6" font-size="16.5" font-weight="bold" text-anchor="middle" fill="#000">(e) Human toxicity</text>
<text transform="translate(6.9,495.9) rotate(-90) scale(1,1)" font-size="8.75" font-weight="bold" text-anchor="middle" fill="#000"><tspan>PO (kg C</tspan><tspan dy="1.8" font-size="6.5">2</tspan><tspan dy="-1.8">H</tspan><tspan dy="1.8" font-size="6.5">4</tspan><tspan dy="-1.8"> eq/t OFMSW)</tspan></text>
<rect x="393.5" y="422.5" width="313.70000000000005" height="145.30" fill="#e6e6e6"/>
<line x1="390.9" y1="427.30" x2="393.5" y2="427.30" stroke="#8a8a8a" stroke-width="0.8"/>
<line x1="390.9" y1="432.10" x2="393.5" y2="432.10" stroke="#8a8a8a" stroke-width="0.8"/>
<line x1="390.9" y1="436.90" x2="393.5" y2="436.90" stroke="#8a8a8a" stroke-width="0.8"/>
<line x1="390.9" y1="441.70" x2="393.5" y2="441.70" stroke="#8a8a8a" stroke-width="0.8"/>
<line x1="390.9" y1="451.28" x2="393.5" y2="451.28" stroke="#8a8a8a" stroke-width="0.8"/>
<line x1="390.9" y1="456.06" x2="393.5" y2="456.06" stroke="#8a8a8a" stroke-width="0.8"/>
<line x1="390.9" y1="460.84" x2="393.5" y2="460.84" stroke="#8a8a8a" stroke-width="0.8"/>
<line x1="390.9" y1="465.62" x2="393.5" y2="465.62" stroke="#8a8a8a" stroke-width="0.8"/>
<line x1="390.9" y1="475.36" x2="393.5" y2="475.36" stroke="#8a8a8a" stroke-width="0.8"/>
<line x1="390.9" y1="480.32" x2="393.5" y2="480.32" stroke="#8a8a8a" stroke-width="0.8"/>
<line x1="390.9" y1="485.28" x2="393.5" y2="485.28" stroke="#8a8a8a" stroke-width="0.8"/>
<line x1="390.9" y1="490.24" x2="393.5" y2="490.24" stroke="#8a8a8a" stroke-width="0.8"/>
<line x1="390.9" y1="500.06" x2="393.5" y2="500.06" stroke="#8a8a8a" stroke-width="0.8"/>
<line x1="390.9" y1="504.92" x2="393.5" y2="504.92" stroke="#8a8a8a" stroke-width="0.8"/>
<line x1="390.9" y1="509.78" x2="393.5" y2="509.78" stroke="#8a8a8a" stroke-width="0.8"/>
<line x1="390.9" y1="514.64" x2="393.5" y2="514.64" stroke="#8a8a8a" stroke-width="0.8"/>
<line x1="390.9" y1="524.32" x2="393.5" y2="524.32" stroke="#8a8a8a" stroke-width="0.8"/>
<line x1="390.9" y1="529.14" x2="393.5" y2="529.14" stroke="#8a8a8a" stroke-width="0.8"/>
<line x1="390.9" y1="533.96" x2="393.5" y2="533.96" stroke="#8a8a8a" stroke-width="0.8"/>
<line x1="390.9" y1="538.78" x2="393.5" y2="538.78" stroke="#8a8a8a" stroke-width="0.8"/>
<line x1="390.9" y1="548.44" x2="393.5" y2="548.44" stroke="#8a8a8a" stroke-width="0.8"/>
<line x1="390.9" y1="553.28" x2="393.5" y2="553.28" stroke="#8a8a8a" stroke-width="0.8"/>
<line x1="390.9" y1="558.12" x2="393.5" y2="558.12" stroke="#8a8a8a" stroke-width="0.8"/>
<line x1="390.9" y1="562.96" x2="393.5" y2="562.96" stroke="#8a8a8a" stroke-width="0.8"/>
<line x1="390.3" y1="422.50" x2="707.2" y2="422.50" stroke="#7d7d7d" stroke-width="1"/>
<line x1="390.3" y1="446.50" x2="707.2" y2="446.50" stroke="#7d7d7d" stroke-width="1"/>
<line x1="390.3" y1="470.40" x2="707.2" y2="470.40" stroke="#7d7d7d" stroke-width="1"/>
<line x1="390.3" y1="495.20" x2="707.2" y2="495.20" stroke="#7d7d7d" stroke-width="1"/>
<line x1="390.3" y1="519.50" x2="707.2" y2="519.50" stroke="#7d7d7d" stroke-width="1"/>
<line x1="390.3" y1="543.60" x2="707.2" y2="543.60" stroke="#7d7d7d" stroke-width="1"/>
<line x1="390.3" y1="567.80" x2="707.2" y2="567.80" stroke="#9a9a9a" stroke-width="1"/>
<line x1="393.5" y1="422.0" x2="393.5" y2="568.3" stroke="#666" stroke-width="1"/>
<text transform="translate(386.3,569.92) scale(1,1)" font-size="8.4" text-anchor="end" fill="#000" stroke="#000" stroke-width="0.15">0,0</text>
<text transform="translate(386.3,545.72) scale(1,1)" font-size="8.4" text-anchor="end" fill="#000" stroke="#000" stroke-width="0.15">0,5</text>
<text transform="translate(386.3,521.62) scale(1,1)" font-size="8.4" text-anchor="end" fill="#000" stroke="#000" stroke-width="0.15">1,0</text>
<text transform="translate(386.3,497.32) scale(1,1)" font-size="8.4" text-anchor="end" fill="#000" stroke="#000" stroke-width="0.15">1,5</text>
<text transform="translate(386.3,472.52) scale(1,1)" font-size="8.4" text-anchor="end" fill="#000" stroke="#000" stroke-width="0.15">2,0</text>
<text transform="translate(386.3,448.62) scale(1,1)" font-size="8.4" text-anchor="end" fill="#000" stroke="#000" stroke-width="0.15">2,5</text>
<text transform="translate(386.3,424.62) scale(1,1)" font-size="8.4" text-anchor="end" fill="#000" stroke="#000" stroke-width="0.15">3,0</text>
<rect x="421.00" y="486.60" width="101.40" height="38.20" fill="#fff"/>
<rect x="421.00" y="524.80" width="101.40" height="43.00" fill="#b2b2b2"/>
<path d="M421.00,524.80V486.60H522.40V524.80" fill="none" stroke="#404040" stroke-width="1.4"/>
<path d="M421.00,567.80V524.80H522.40V567.80" fill="none" stroke="#404040" stroke-width="1.4"/>
<text x="472.00" y="583.2" font-size="8.5" text-anchor="middle" fill="#000" stroke="#000" stroke-width="0.15">CT</text>
<rect x="578.20" y="433.60" width="101.20" height="25.90" fill="#fff"/>
<rect x="578.20" y="459.50" width="101.20" height="108.30" fill="#b2b2b2"/>
<path d="M578.20,459.50V433.60H679.40V459.50" fill="none" stroke="#404040" stroke-width="1.4"/>
<path d="M578.20,567.80V459.50H679.40V567.80" fill="none" stroke="#404040" stroke-width="1.4"/>
<text x="629.10" y="583.2" font-size="8.5" text-anchor="middle" fill="#000" stroke="#000" stroke-width="0.15">CCW</text>
<text x="551.7" y="412.3" font-size="16.5" font-weight="bold" text-anchor="middle" fill="#000">(f) Ozone Layer Depletion</text>
<text transform="translate(371.7,494.7) rotate(-90) scale(1,1)" font-size="10.1" font-weight="bold" text-anchor="middle" fill="#000"><tspan>ODP * 10</tspan><tspan dy="-4.2" font-size="7">5</tspan><tspan dy="4.2"> (kg CFC</tspan><tspan dy="-4.2" font-size="7">-11</tspan><tspan dy="4.2"> eq/t OFMSW)</tspan></text>
<rect x="139.3" y="605.9" width="417.4" height="68.8" fill="#fff" stroke="#000" stroke-width="1.5"/>
<text x="146.6" y="636.8" font-size="11" fill="#000">CT: Tunnels Composting plant</text>
<text x="146.6" y="657.6" font-size="11" fill="#000">CCW: Confined Windrows Composting plant</text>
<rect x="398.1" y="611.0" width="23.3" height="16.0" fill="#000" stroke="#111" stroke-width="1.3"/>
<text x="431.8" y="623.7" font-size="10.9" fill="#000">Composting process</text>
<rect x="398.1" y="633.1" width="23.3" height="15.8" fill="#808080" stroke="#111" stroke-width="1.3"/>
<text x="431.8" y="645.3" font-size="10.9" fill="#000">Fuel consumption</text>
<rect x="398.1" y="655.2" width="23.3" height="15.8" fill="#fff" stroke="#111" stroke-width="1.3"/>
<text x="431.8" y="667.3" font-size="10.9" fill="#000">Electricity consumption</text>
</svg>
</body></html>
